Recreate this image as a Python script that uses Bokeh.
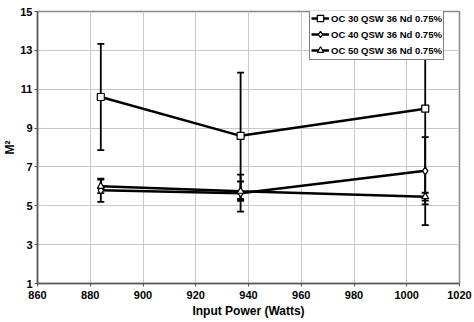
from bokeh.plotting import figure
from bokeh.models import ColumnDataSource, Whisker, FixedTicker, Legend, LegendItem, TeeHead, Range1d
from bokeh.embed import file_html
from bokeh.resources import INLINE

power = [884, 937, 1007]
labels = ["OC 30 QSW 36 Nd 0.75%", "OC 40 QSW 36 Nd 0.75%", "OC 50 QSW 36 Nd 0.75%"]
m2_oc30 = [10.6, 8.6, 10.0]
err_oc30 = [2.73, 3.25, 6.0]
m2_oc40 = [5.8, 5.65, 6.8]
err_oc40 = [0.6, 0.95, 1.73]
m2_oc50 = [6.0, 5.75, 5.47]
err_oc50 = [0.35, 0.5, 0.2]
markers = ["square", "diamond", "triangle"]
x_ticks = [860, 880, 900, 920, 940, 960, 980, 1000, 1020]
y_ticks = [1, 3, 5, 7, 9, 11, 13, 15]

FONT = "Liberation Sans"

p = figure(width=474, height=322, output_backend="svg", toolbar_location=None,
           x_range=Range1d(860, 1020), y_range=Range1d(1, 15),
           min_border_left=30, min_border_right=15, min_border_top=11, min_border_bottom=39)
p.outline_line_color = "#888888"
p.outline_line_width = 1.5
p.background_fill_color = "white"
p.border_fill_color = "white"

for ax in (p.xaxis[0], p.yaxis[0]):
    ax.axis_line_color = "#555555"
    ax.axis_line_width = 1.5
    ax.major_tick_line_color = "#555555"
    ax.major_tick_out = 3
    ax.major_tick_in = 0
    ax.minor_tick_line_color = None
    ax.major_label_text_font = FONT
    ax.major_label_text_font_style = "bold"
    ax.major_label_text_font_size = "11px"
    ax.major_label_text_color = "black"
    ax.axis_label_text_font = FONT
    ax.axis_label_text_font_style = "bold"
    ax.axis_label_text_font_size = "12px"
    ax.axis_label_text_color = "black"

p.xaxis.ticker = FixedTicker(ticks=x_ticks)
p.yaxis.ticker = FixedTicker(ticks=y_ticks)
p.xaxis.axis_label = "Input Power (Watts)"
p.xaxis.axis_label_standoff = 2
p.xaxis.major_label_standoff = 4
p.yaxis.axis_label = "M²"
p.yaxis.axis_label_text_font_size = "12px"
p.yaxis.axis_label_standoff = 0
p.yaxis.major_label_standoff = 2
p.xgrid.grid_line_color = "#c8c8c8"
p.ygrid.grid_line_color = "#c8c8c8"
p.xgrid.ticker = FixedTicker(ticks=x_ticks)
p.ygrid.ticker = FixedTicker(ticks=y_ticks)

items = []
for lab, ys, es, mk in zip(labels, [m2_oc30, m2_oc40, m2_oc50], [err_oc30, err_oc40, err_oc50], markers):
    src = ColumnDataSource(dict(x=power, y=ys,
                                lo=[y - e for y, e in zip(ys, es)],
                                hi=[y + e for y, e in zip(ys, es)]))
    w = Whisker(base="x", lower="lo", upper="hi", source=src,
                line_color="black", line_width=1.8,
                lower_head=TeeHead(size=7, line_color="black", line_width=1.8),
                upper_head=TeeHead(size=7, line_color="black", line_width=1.8))
    p.add_layout(w)
    ln = p.line("x", "y", source=src, line_color="black", line_width=2.5)
    sc = p.scatter("x", "y", source=src, marker=mk, size=7 if mk != "diamond" else 8,
                   line_color="black", line_width=1.2, fill_color="white")
    items.append(LegendItem(label=lab, renderers=[ln, sc]))

legend = Legend(items=items, location=(272, 223))
legend.label_text_font = FONT
legend.label_text_font_style = "bold"
legend.label_text_font_size = "9.5px"
legend.label_text_color = "black"
legend.border_line_color = "black"
legend.border_line_width = 1
legend.background_fill_alpha = 1
legend.spacing = 0
legend.padding = 1
legend.margin = 0
legend.glyph_width = 18
legend.glyph_height = 16
legend.label_height = 16
legend.label_standoff = 2
p.add_layout(legend)

open("out.html", "w").write(file_html(p, INLINE))
